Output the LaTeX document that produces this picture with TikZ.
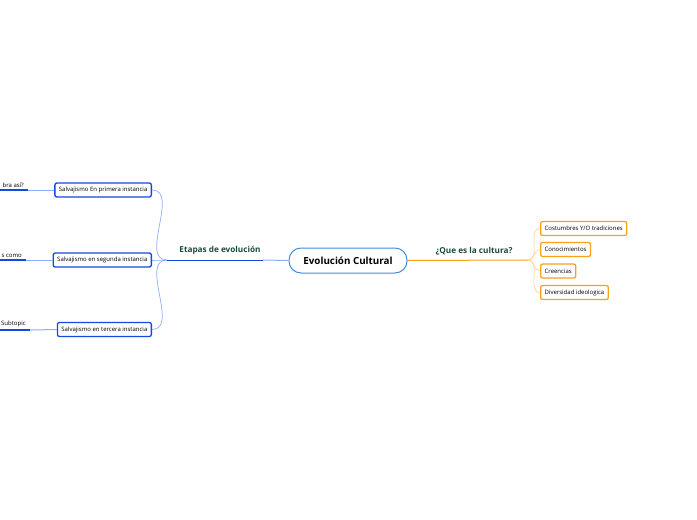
\documentclass[tikz,border=0pt]{standalone}
\usepackage{fontspec}
\setmainfont{Open Sans}
\usetikzlibrary{positioning}
\definecolor{topicblue}{HTML}{1448E0}
\definecolor{lineblue}{HTML}{8EAEF6}
\definecolor{rootblue}{HTML}{3F8ED8}
\definecolor{topicorange}{HTML}{F7A21B}
\definecolor{lineorange}{HTML}{FFD39A}
\definecolor{labelgreen}{HTML}{1B4A3A}

\begin{document}
\begin{tikzpicture}[x=1pt,y=-1pt,
  root/.style={draw=rootblue, line width=1pt, fill=white, rounded corners=12pt,
    minimum width=118pt, minimum height=25pt, font=\fontsize{9.8}{11}\selectfont\bfseries},
  branch/.style={text=labelgreen, font=\fontsize{8.2}{10}\selectfont\bfseries},
  leftbox/.style={draw=topicblue, line width=1.3pt, rounded corners=2pt, fill=white,
    minimum height=14pt, inner xsep=4pt, inner ysep=0pt, anchor=east,
    font=\fontsize{6}{7}\selectfont},
  rightbox/.style={draw=topicorange, line width=1.3pt, rounded corners=2pt, fill=white,
    minimum height=14pt, inner xsep=4pt, inner ysep=0pt, anchor=west,
    font=\fontsize{6}{7}\selectfont},
  subtopic/.style={inner sep=1pt, font=\fontsize{6}{7}\selectfont}]
  \clip (0,0) rectangle (697,520);
  \useasboundingbox (0,0) rectangle (697,520);

  % centre
  \node[root] (evol) at (348,260.5) {Evolución Cultural};

  % left side
  \coordinate (lb) at (167,260);
  \coordinate (lmid) at (263,260);
  \node[branch] (etapas) at (220,250) {Etapas de evolución};
  \node[leftbox] (s1) at (152,190) {Salvajismo En primera instancia};
  \node[leftbox] (s2) at (152,260) {Salvajismo en segunda instancia};
  \node[leftbox] (s3) at (152,329.5) {Salvajismo en tercera instancia};
  \draw[lineblue, line width=1pt] (evol.west) -- (lmid);
  \draw[topicblue, line width=1pt] (lmid) -- (lb);
  \foreach \s in {s1,s2,s3}
    \draw[lineblue, line width=0.7pt] (\s.east) to[out=0,in=180] (lb);

  % subtopics cut by the edge
  \coordinate (t1) at (28,190);  \coordinate (e1) at (0,190);
  \coordinate (t2) at (26,260);  \coordinate (e2) at (0,260);
  \coordinate (t3) at (30,330);  \coordinate (e3) at (0,330);
  \node[subtopic, anchor=south east] (u1) at (25,188.5) {bra así?};
  \node[subtopic, anchor=south east] (u2) at (23,258.5) {s como};
  \node[subtopic, anchor=south west] (u3) at (0,328.5) {Subtopic};
  \draw[lineblue, line width=1pt] (s1.west) -- (t1);
  \draw[topicblue, line width=1.5pt] (t1) -- (e1);
  \draw[lineblue, line width=1pt] (s2.west) -- (t2);
  \draw[topicblue, line width=1.5pt] (t2) -- (e2);
  \draw[lineblue, line width=1pt] (s3.west) -- (t3);
  \draw[topicblue, line width=1.5pt] (t3) -- (e3);

  % right side
  \coordinate (rb) at (528,260);
  \node[branch] (cultura) at (474,251) {¿Que es la cultura?};
  \node[rightbox] (c1) at (540,228.5) {Costumbres Y/O tradiciones};
  \node[rightbox] (c2) at (540,249.5) {Conocimientos};
  \node[rightbox] (c3) at (540,271) {Creencias};
  \node[rightbox] (c4) at (540,292.5) {Diversidad ideologica};
  \draw[topicorange, line width=1pt] (evol.east) -- (rb);
  \foreach \c in {c1,c2,c3,c4}
    \draw[lineorange, line width=0.7pt] (rb) to[out=0,in=180] (\c.west);
\end{tikzpicture}
\end{document}
